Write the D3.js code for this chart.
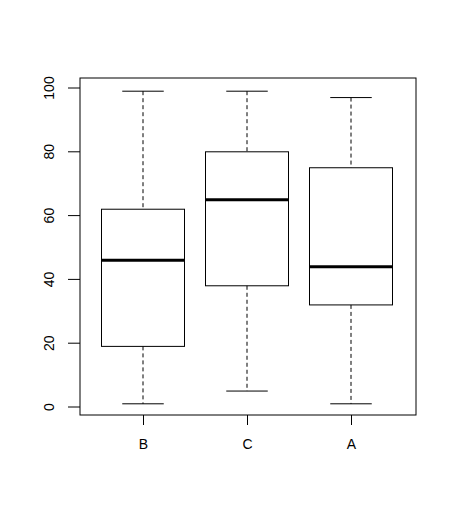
<!DOCTYPE html>
<html><head><meta charset="utf-8">
<script src="https://cdn.jsdelivr.net/npm/d3@7"></script>
<style>body{margin:0;background:#fff}</style></head>
<body><svg id="c" width="457" height="514"></svg>
<script>
const categories=["B","C","A"];
const mins=[1,5,1];
const q1s=[19,38,32];
const medians=[46,65,44];
const q3s=[62,80,75];
const maxs=[99,99,97];
const yTicks=[0,20,40,60,80,100];

const svg=d3.select("#c");
const L=80,R=416,T=78,B=415;
const x=d3.scalePoint().domain(categories).range([143,351]);
const bw=83;
const y=d3.scaleLinear().domain([0,100]).range([407,88]);
const f="Liberation Sans, Arial, sans-serif";
svg.append("rect").attr("x",L).attr("y",T).attr("width",R-L).attr("height",B-T).attr("fill","none").attr("stroke","#000");
const ya=svg.append("g").attr("transform",`translate(${L},0)`).call(d3.axisLeft(y).tickValues(yTicks).tickSize(12).tickSizeOuter(0));
ya.select(".domain").remove();
ya.selectAll(".tick").attr("transform",null);
ya.selectAll(".tick line").attr("y1",d=>y(d)).attr("y2",d=>y(d));
ya.selectAll("text").attr("font-family",f).attr("font-size",14).attr("x",null).attr("text-anchor","middle")
 .attr("transform",d=>`translate(-31,${y(d)}) rotate(-90)`).attr("y",0).attr("dy","0.35em");
const xa=svg.append("g").attr("transform",`translate(0,${B})`).call(d3.axisBottom(x).tickSize(10).tickSizeOuter(0));
xa.select(".domain").remove();
xa.selectAll("text").attr("font-family",f).attr("font-size",14).attr("y",24).attr("dy","0.71em");
categories.forEach((c,i)=>{
 const cx=x(c),x0=cx-bw/2,w=bw;
 const g=svg.append("g").attr("stroke","#000").attr("fill","none");
 g.append("line").attr("x1",cx).attr("x2",cx).attr("y1",y(maxs[i])).attr("y2",y(q3s[i])).attr("stroke-dasharray","4,3");
 g.append("line").attr("x1",cx).attr("x2",cx).attr("y1",y(q1s[i])).attr("y2",y(mins[i])).attr("stroke-dasharray","4,3");
 [maxs[i],mins[i]].forEach(v=>g.append("line").attr("x1",cx-w/4).attr("x2",cx+w/4).attr("y1",y(v)).attr("y2",y(v)));
 g.append("rect").attr("x",x0).attr("width",w).attr("y",y(q3s[i])).attr("height",y(q1s[i])-y(q3s[i]));
 g.append("line").attr("x1",x0).attr("x2",x0+w).attr("y1",y(medians[i])).attr("y2",y(medians[i])).attr("stroke-width",3);
});
</script></body></html>
